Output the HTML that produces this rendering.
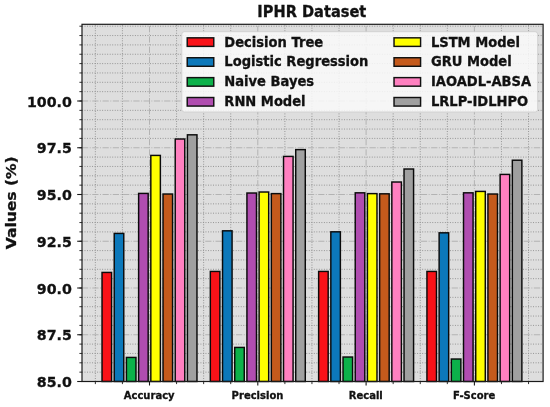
<!DOCTYPE html>
<html lang="en"><head><meta charset="utf-8"><title>IPHR Dataset</title>
<style>html,body{margin:0;padding:0;background:#fff}</style></head>
<body>
<svg width="550" height="407" viewBox="0 0 550 407" style="display:block;font-family:'DejaVu Sans','Liberation Sans',sans-serif;font-weight:bold">
<rect width="550" height="407" fill="#fff"/>
<rect x="82.0" y="24.3" width="461.1" height="357.2" fill="#dedede"/>
<g stroke="#929292" stroke-width="1.0" stroke-dasharray="0.95 1.57" fill="none">
<path d="M82.0 372.15H543.1"/>
<path d="M82.0 362.80H543.1"/>
<path d="M82.0 353.45H543.1"/>
<path d="M82.0 344.10H543.1"/>
<path d="M82.0 325.40H543.1"/>
<path d="M82.0 316.05H543.1"/>
<path d="M82.0 306.70H543.1"/>
<path d="M82.0 297.35H543.1"/>
<path d="M82.0 278.65H543.1"/>
<path d="M82.0 269.30H543.1"/>
<path d="M82.0 259.95H543.1"/>
<path d="M82.0 250.60H543.1"/>
<path d="M82.0 231.90H543.1"/>
<path d="M82.0 222.55H543.1"/>
<path d="M82.0 213.20H543.1"/>
<path d="M82.0 203.85H543.1"/>
<path d="M82.0 185.15H543.1"/>
<path d="M82.0 175.80H543.1"/>
<path d="M82.0 166.45H543.1"/>
<path d="M82.0 157.10H543.1"/>
<path d="M82.0 138.40H543.1"/>
<path d="M82.0 129.05H543.1"/>
<path d="M82.0 119.70H543.1"/>
<path d="M82.0 110.35H543.1"/>
<path d="M82.0 91.65H543.1"/>
<path d="M82.0 82.30H543.1"/>
<path d="M82.0 72.95H543.1"/>
<path d="M82.0 63.60H543.1"/>
<path d="M82.0 54.25H543.1"/>
<path d="M82.0 44.90H543.1"/>
<path d="M82.0 35.55H543.1"/>
<path d="M82.0 26.20H543.1"/>
<path d="M95.35 381.5V24.3"/>
<path d="M122.42 381.5V24.3"/>
<path d="M176.57 381.5V24.3"/>
<path d="M203.65 381.5V24.3"/>
<path d="M230.72 381.5V24.3"/>
<path d="M284.88 381.5V24.3"/>
<path d="M311.95 381.5V24.3"/>
<path d="M339.02 381.5V24.3"/>
<path d="M393.17 381.5V24.3"/>
<path d="M420.25 381.5V24.3"/>
<path d="M447.32 381.5V24.3"/>
<path d="M501.47 381.5V24.3"/>
<path d="M528.55 381.5V24.3"/>
</g>
<g stroke="#b0b0b0" stroke-width="0.95" stroke-dasharray="6.2 1.55 0.97 1.55" fill="none">
<path d="M82.0 334.75H543.1"/>
<path d="M82.0 288.00H543.1"/>
<path d="M82.0 241.25H543.1"/>
<path d="M82.0 194.50H543.1"/>
<path d="M82.0 147.75H543.1"/>
<path d="M82.0 101.00H543.1"/>
<path d="M149.50 381.5V24.3"/>
<path d="M257.80 381.5V24.3"/>
<path d="M366.10 381.5V24.3"/>
<path d="M474.40 381.5V24.3"/>
</g>
<g stroke="#0a0a0a" stroke-width="1.45">
<rect x="102.03" y="272.43" width="9.55" height="109.07" fill="#f91218"/>
<rect x="114.22" y="233.42" width="9.55" height="148.08" fill="#0c78ba"/>
<rect x="126.42" y="357.43" width="9.55" height="24.07" fill="#0cb14a"/>
<rect x="138.62" y="193.42" width="9.55" height="188.08" fill="#b04db0"/>
<rect x="150.82" y="155.42" width="9.55" height="226.08" fill="#ffff00"/>
<rect x="163.03" y="194.02" width="9.55" height="187.48" fill="#c55a1c"/>
<rect x="175.22" y="139.02" width="9.55" height="242.48" fill="#ff80c0"/>
<rect x="187.42" y="134.82" width="9.55" height="246.68" fill="#a0a0a0"/>
<rect x="210.33" y="271.43" width="9.55" height="110.07" fill="#f91218"/>
<rect x="222.53" y="230.82" width="9.55" height="150.68" fill="#0c78ba"/>
<rect x="234.72" y="347.43" width="9.55" height="34.07" fill="#0cb14a"/>
<rect x="246.93" y="193.02" width="9.55" height="188.48" fill="#b04db0"/>
<rect x="259.13" y="192.02" width="9.55" height="189.48" fill="#ffff00"/>
<rect x="271.33" y="193.62" width="9.55" height="187.88" fill="#c55a1c"/>
<rect x="283.53" y="156.42" width="9.55" height="225.08" fill="#ff80c0"/>
<rect x="295.73" y="149.62" width="9.55" height="231.88" fill="#a0a0a0"/>
<rect x="318.63" y="271.43" width="9.55" height="110.07" fill="#f91218"/>
<rect x="330.83" y="231.82" width="9.55" height="149.68" fill="#0c78ba"/>
<rect x="343.03" y="357.03" width="9.55" height="24.47" fill="#0cb14a"/>
<rect x="355.23" y="192.82" width="9.55" height="188.68" fill="#b04db0"/>
<rect x="367.43" y="193.62" width="9.55" height="187.88" fill="#ffff00"/>
<rect x="379.63" y="193.82" width="9.55" height="187.68" fill="#c55a1c"/>
<rect x="391.83" y="182.02" width="9.55" height="199.48" fill="#ff80c0"/>
<rect x="404.03" y="169.02" width="9.55" height="212.48" fill="#a0a0a0"/>
<rect x="426.93" y="271.43" width="9.55" height="110.07" fill="#f91218"/>
<rect x="439.12" y="232.82" width="9.55" height="148.68" fill="#0c78ba"/>
<rect x="451.32" y="359.03" width="9.55" height="22.47" fill="#0cb14a"/>
<rect x="463.52" y="192.82" width="9.55" height="188.68" fill="#b04db0"/>
<rect x="475.73" y="191.42" width="9.55" height="190.08" fill="#ffff00"/>
<rect x="487.93" y="194.02" width="9.55" height="187.48" fill="#c55a1c"/>
<rect x="500.12" y="174.42" width="9.55" height="207.08" fill="#ff80c0"/>
<rect x="512.33" y="160.22" width="9.55" height="221.28" fill="#a0a0a0"/>
</g>
<g stroke="#1a1a1a" fill="none">
<g stroke-width="0.9">
<path d="M82.0 372.15h-2.6"/>
<path d="M82.0 362.80h-2.6"/>
<path d="M82.0 353.45h-2.6"/>
<path d="M82.0 344.10h-2.6"/>
<path d="M82.0 334.75h-2.6"/>
<path d="M82.0 325.40h-2.6"/>
<path d="M82.0 316.05h-2.6"/>
<path d="M82.0 306.70h-2.6"/>
<path d="M82.0 297.35h-2.6"/>
<path d="M82.0 288.00h-2.6"/>
<path d="M82.0 278.65h-2.6"/>
<path d="M82.0 269.30h-2.6"/>
<path d="M82.0 259.95h-2.6"/>
<path d="M82.0 250.60h-2.6"/>
<path d="M82.0 241.25h-2.6"/>
<path d="M82.0 231.90h-2.6"/>
<path d="M82.0 222.55h-2.6"/>
<path d="M82.0 213.20h-2.6"/>
<path d="M82.0 203.85h-2.6"/>
<path d="M82.0 194.50h-2.6"/>
<path d="M82.0 185.15h-2.6"/>
<path d="M82.0 175.80h-2.6"/>
<path d="M82.0 166.45h-2.6"/>
<path d="M82.0 157.10h-2.6"/>
<path d="M82.0 147.75h-2.6"/>
<path d="M82.0 138.40h-2.6"/>
<path d="M82.0 129.05h-2.6"/>
<path d="M82.0 119.70h-2.6"/>
<path d="M82.0 110.35h-2.6"/>
<path d="M82.0 101.00h-2.6"/>
<path d="M82.0 91.65h-2.6"/>
<path d="M82.0 82.30h-2.6"/>
<path d="M82.0 72.95h-2.6"/>
<path d="M82.0 63.60h-2.6"/>
<path d="M82.0 54.25h-2.6"/>
<path d="M82.0 44.90h-2.6"/>
<path d="M82.0 35.55h-2.6"/>
<path d="M82.0 26.20h-2.6"/>
<path d="M95.35 381.5v2.6"/>
<path d="M122.42 381.5v2.6"/>
<path d="M176.57 381.5v2.6"/>
<path d="M203.65 381.5v2.6"/>
<path d="M230.72 381.5v2.6"/>
<path d="M284.88 381.5v2.6"/>
<path d="M311.95 381.5v2.6"/>
<path d="M339.02 381.5v2.6"/>
<path d="M393.17 381.5v2.6"/>
<path d="M420.25 381.5v2.6"/>
<path d="M447.32 381.5v2.6"/>
<path d="M501.47 381.5v2.6"/>
<path d="M528.55 381.5v2.6"/>
</g><g stroke-width="1.1">
<path d="M82.0 381.50h-4.8"/>
<path d="M82.0 334.75h-4.8"/>
<path d="M82.0 288.00h-4.8"/>
<path d="M82.0 241.25h-4.8"/>
<path d="M82.0 194.50h-4.8"/>
<path d="M82.0 147.75h-4.8"/>
<path d="M82.0 101.00h-4.8"/>
<path d="M149.50 381.5v4.0"/>
<path d="M257.80 381.5v4.0"/>
<path d="M366.10 381.5v4.0"/>
<path d="M474.40 381.5v4.0"/>
</g>
<rect x="82.0" y="24.3" width="461.1" height="357.2" stroke-width="1.2"/>
</g>
<g fill="#111" stroke="#111" stroke-width="0.3">
<text transform="translate(311.80 16.70) scale(1 1.05)" font-size="14.6" text-anchor="middle">IPHR Dataset</text>
<text transform="translate(71.80 387.10) scale(1 1.045)" font-size="14.2" text-anchor="end">85.0</text>
<text transform="translate(71.80 340.35) scale(1 1.045)" font-size="14.2" text-anchor="end">87.5</text>
<text transform="translate(71.80 293.60) scale(1 1.045)" font-size="14.2" text-anchor="end">90.0</text>
<text transform="translate(71.80 246.85) scale(1 1.045)" font-size="14.2" text-anchor="end">92.5</text>
<text transform="translate(71.80 200.10) scale(1 1.045)" font-size="14.2" text-anchor="end">95.0</text>
<text transform="translate(71.80 153.35) scale(1 1.045)" font-size="14.2" text-anchor="end">97.5</text>
<text transform="translate(71.80 106.60) scale(1 1.045)" font-size="14.2" text-anchor="end">100.0</text>
<text transform="translate(149.20 398.90) scale(1 1.05)" font-size="10.0" text-anchor="middle">Accuracy</text>
<text transform="translate(257.50 398.90) scale(1 1.05)" font-size="10.0" text-anchor="middle">Precision</text>
<text transform="translate(365.80 398.90) scale(1 1.05)" font-size="10.0" text-anchor="middle">Recall</text>
<text transform="translate(474.10 398.90) scale(1 1.05)" font-size="10.0" text-anchor="middle">F-Score</text>
<text transform="translate(16.30 202.80) scale(1 1.05) rotate(-90)" font-size="14.8" text-anchor="middle">Values (%)</text>
</g>
<rect x="181.8" y="31.7" width="355.9" height="80.3" rx="2.6" fill="#fafafa" fill-opacity="0.85" stroke="#ccc" stroke-opacity="0.8" stroke-width="1"/>
<rect x="187.22" y="37.83" width="26.55" height="8.55" fill="#f91218" stroke="#111" stroke-width="1.45"/>
<g fill="#111" stroke="#111" stroke-width="0.3"><text transform="translate(224.30 46.50) scale(1 1.05)" font-size="13.1" text-anchor="start">Decision Tree</text></g>
<rect x="187.22" y="57.73" width="26.55" height="8.55" fill="#0c78ba" stroke="#111" stroke-width="1.45"/>
<g fill="#111" stroke="#111" stroke-width="0.3"><text transform="translate(224.30 66.40) scale(1 1.05)" font-size="13.1" text-anchor="start">Logistic Regression</text></g>
<rect x="187.22" y="77.62" width="26.55" height="8.55" fill="#0cb14a" stroke="#111" stroke-width="1.45"/>
<g fill="#111" stroke="#111" stroke-width="0.3"><text transform="translate(224.30 86.30) scale(1 1.05)" font-size="13.1" text-anchor="start">Naive Bayes</text></g>
<rect x="187.22" y="97.52" width="26.55" height="8.55" fill="#b04db0" stroke="#111" stroke-width="1.45"/>
<g fill="#111" stroke="#111" stroke-width="0.3"><text transform="translate(224.30 106.20) scale(1 1.05)" font-size="13.1" text-anchor="start">RNN Model</text></g>
<rect x="394.03" y="37.83" width="26.55" height="8.55" fill="#ffff00" stroke="#111" stroke-width="1.45"/>
<g fill="#111" stroke="#111" stroke-width="0.3"><text transform="translate(430.90 46.50) scale(1 1.05)" font-size="13.1" text-anchor="start">LSTM Model</text></g>
<rect x="394.03" y="57.73" width="26.55" height="8.55" fill="#c55a1c" stroke="#111" stroke-width="1.45"/>
<g fill="#111" stroke="#111" stroke-width="0.3"><text transform="translate(430.90 66.40) scale(1 1.05)" font-size="13.1" text-anchor="start">GRU Model</text></g>
<rect x="394.03" y="77.62" width="26.55" height="8.55" fill="#ff80c0" stroke="#111" stroke-width="1.45"/>
<g fill="#111" stroke="#111" stroke-width="0.3"><text transform="translate(430.90 86.30) scale(1 1.05)" font-size="13.1" text-anchor="start">IAOADL-ABSA</text></g>
<rect x="394.03" y="97.52" width="26.55" height="8.55" fill="#a0a0a0" stroke="#111" stroke-width="1.45"/>
<g fill="#111" stroke="#111" stroke-width="0.3"><text transform="translate(430.90 106.20) scale(1 1.05)" font-size="13.1" text-anchor="start">LRLP-IDLHPO</text></g>
</svg>
</body></html>
